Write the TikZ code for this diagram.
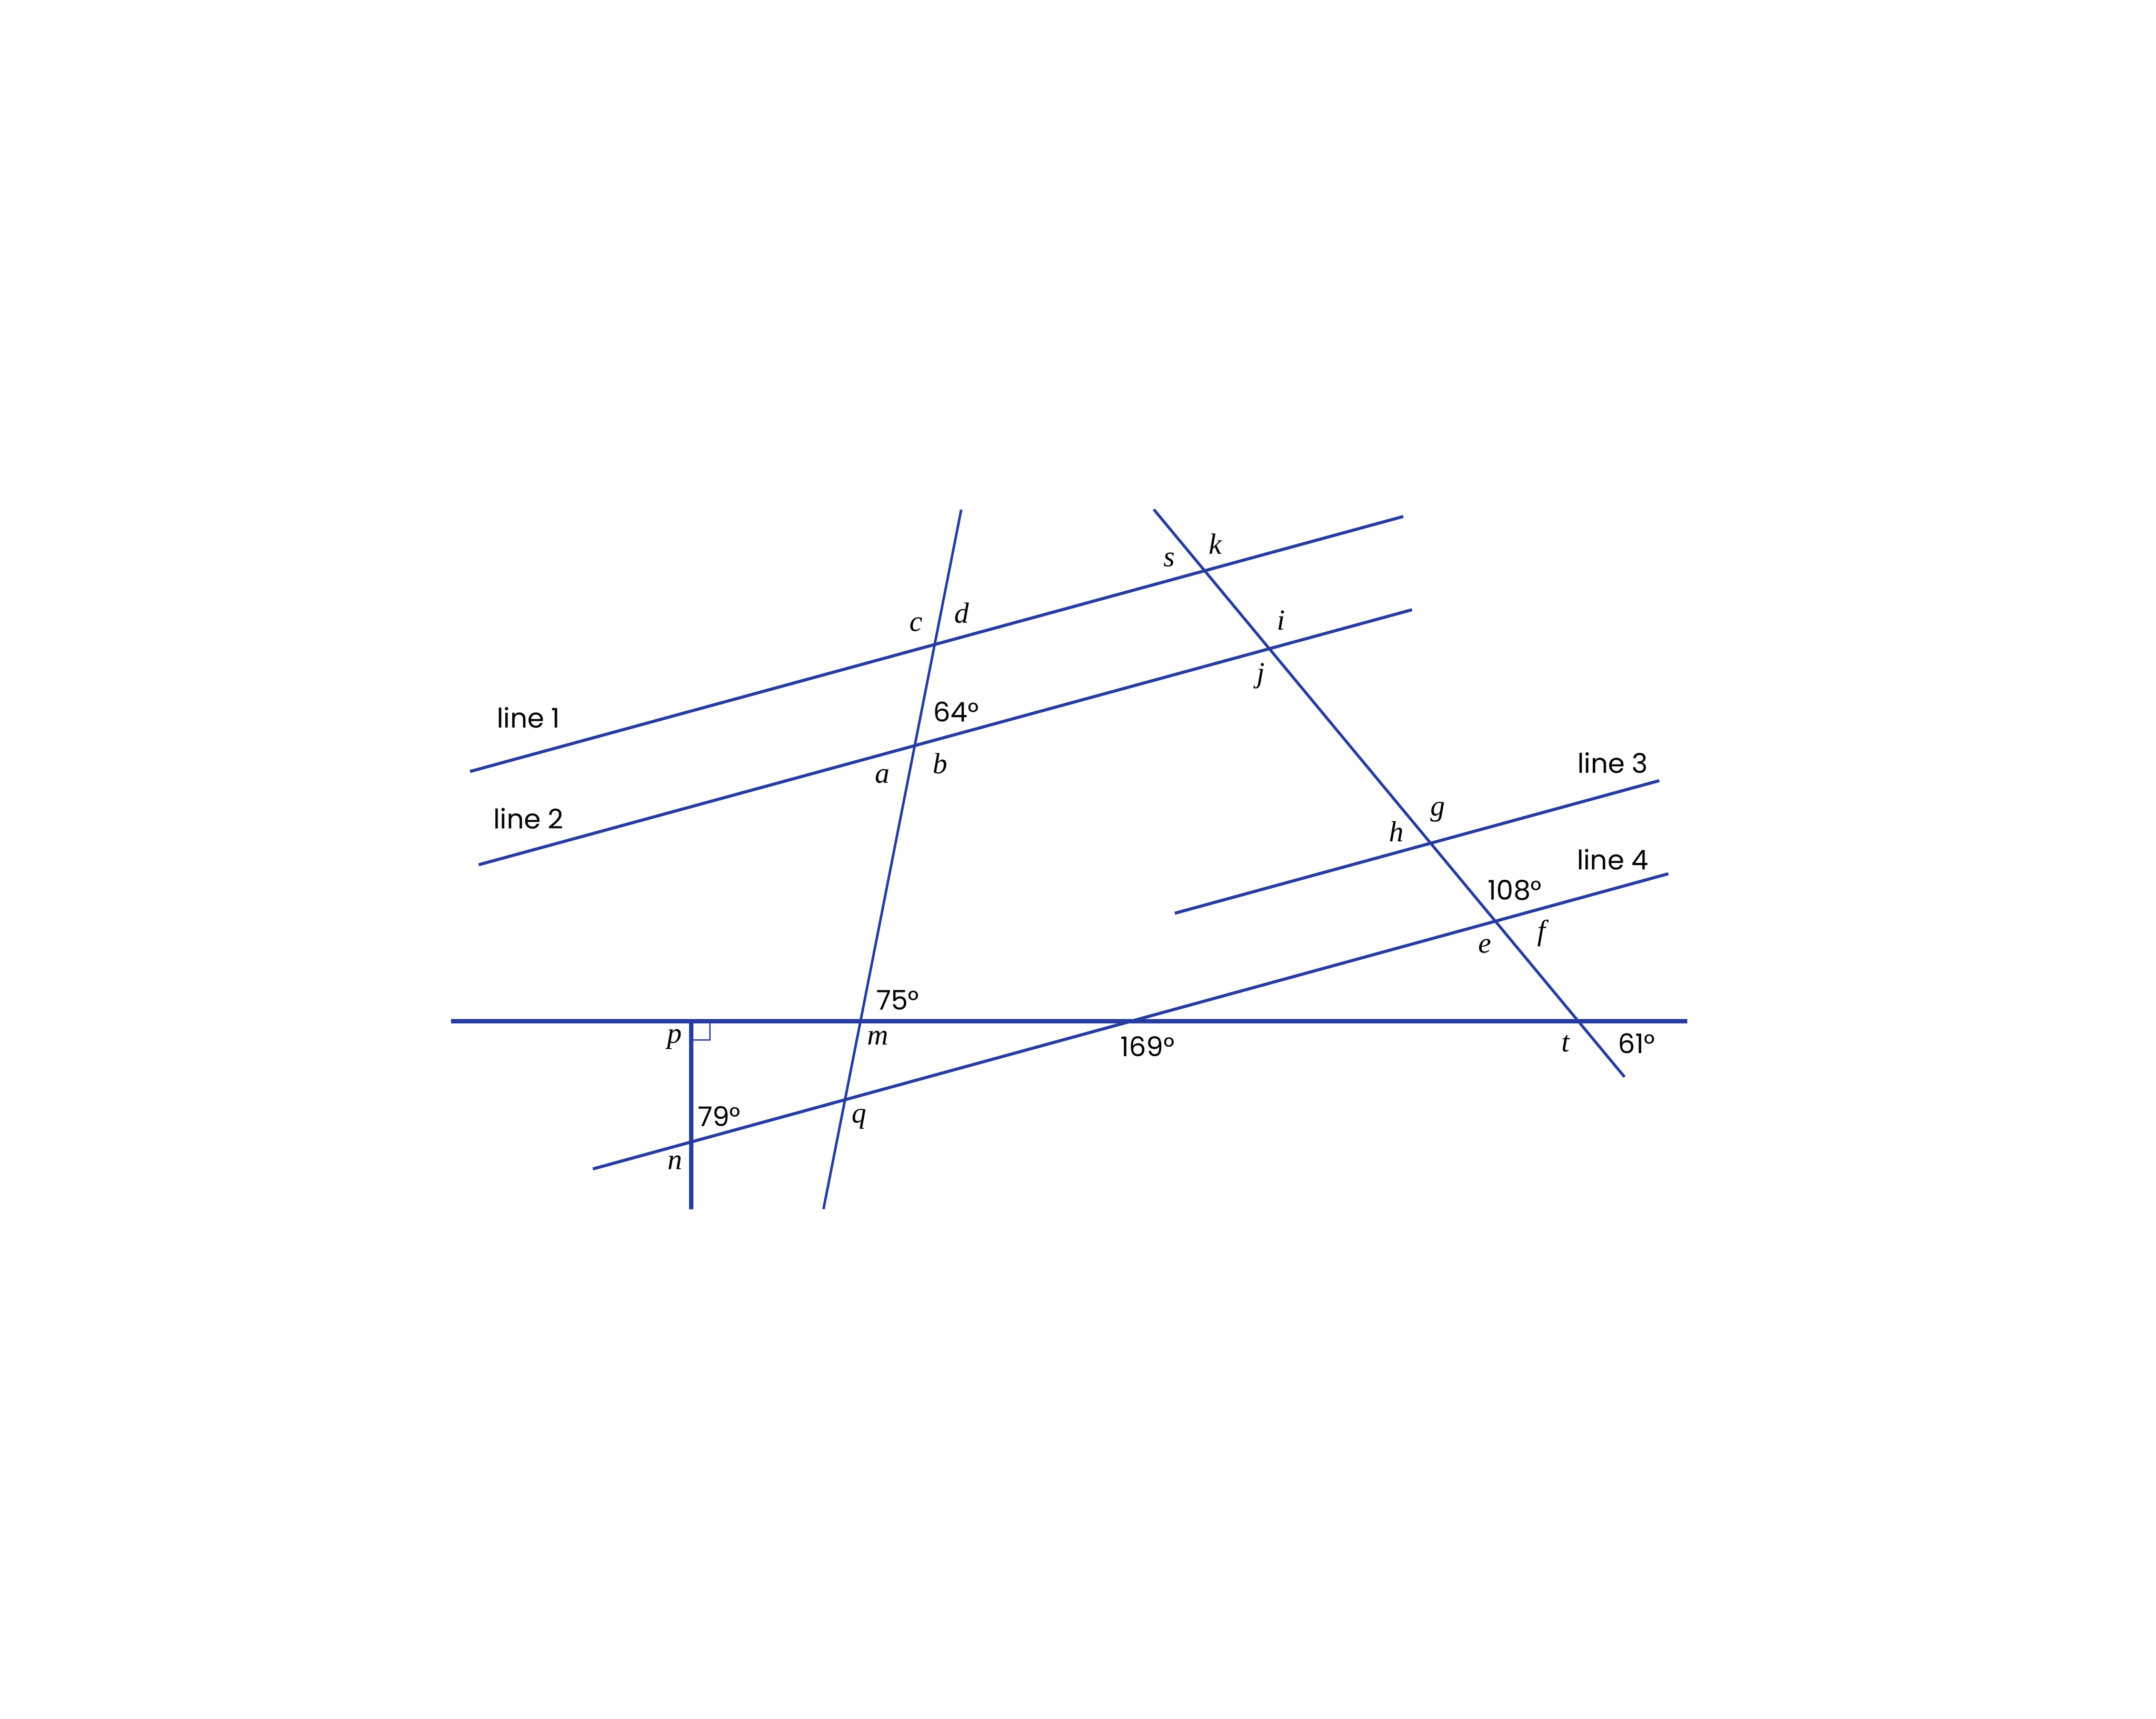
\documentclass[tikz,border=0pt]{standalone}
\usepackage{fontspec}
\setmainfont{Poppins}
\newfontfamily\itf{Liberation Serif}
\definecolor{lineblue}{RGB}{38,60,160}
\begin{document}
\begin{tikzpicture}[x=1pt,y=-1pt,
  geo/.style={draw=lineblue, line cap=butt},
  lbl/.style={inner sep=0pt, text=black, font=\fontsize{19.5}{23}\selectfont},
  var/.style={inner sep=0pt, text=black, font=\fontsize{21}{25}\selectfont\itf\itshape}]
\fill[white] (0,0) rectangle (1556,1240.25);
\useasboundingbox (0,0) rectangle (1556,1240.25);
% end points
\coordinate (L1a) at (339.2,556.7);  \coordinate (L1b) at (1012.7,372.7);
\coordinate (L2a) at (345.5,624);    \coordinate (L2b) at (1019,440);
\coordinate (L3a) at (847.9,659);    \coordinate (L3b) at (1197.5,563.3);
\coordinate (L4a) at (427.9,843.5);  \coordinate (L4b) at (1204,630.5);
\coordinate (T1a) at (693.7,367.8);  \coordinate (T1b) at (594.3,872.5);
\coordinate (T2a) at (832.7,367.6);  \coordinate (T2b) at (1172.4,777.1);
\coordinate (Ha) at (325.4,737);     \coordinate (Hb) at (1217.8,737);
\coordinate (Va) at (498.8,737);     \coordinate (Vb) at (498.8,872.5);
\coordinate (R1) at (498.8,750.5); \coordinate (R2) at (512.5,750.5); \coordinate (R3) at (512.5,737);
% lines
\draw[geo, line width=2.2pt] (L1a) -- (L1b);
\draw[geo, line width=2.2pt] (L2a) -- (L2b);
\draw[geo, line width=2.2pt] (L3a) -- (L3b);
\draw[geo, line width=2.2pt] (L4a) -- (L4b);
\draw[geo, line width=1.8pt] (T1a) -- (T1b);
\draw[geo, line width=2.0pt] (T2a) -- (T2b);
\draw[geo, line width=3.0pt] (Ha) -- (Hb);
\draw[geo, line width=3.1pt] (Va) -- (Vb);
\draw[geo, line width=1.0pt] (R1) -- (R2) -- (R3);
% line names
\node[lbl] (n1) at (381.4,517.9) {line 1};
\node[lbl] (n2) at (381.4,590.5) {line 2};
\node[lbl] (n3) at (1163.9,550.5) {line 3};
\node[lbl] (n4) at (1163.9,620.3) {line 4};
% angles
\node[lbl] (d64) at (690,513.5) {64°};
\node[lbl] (d108) at (1093.3,642.3) {108°};
\node[lbl] (d75) at (647.8,721.7) {75°};
\node[lbl] (d169) at (828.2,755) {169°};
\node[lbl] (d61) at (1181,752.9) {61°};
\node[lbl] (d79) at (519,805.5) {79°};
% letters
\node[var] (vc) at (661.2,450.5) {c};
\node[var] (vd) at (694.2,442.4) {d};
\node[var] (va) at (636.8,560) {a};
\node[var] (vb) at (678.5,551) {b};
\node[var] (vs) at (843.7,403.9) {s};
\node[var] (vk) at (877,392.4) {k};
\node[var] (vi) at (924.5,447.5) {i};
\node[var] (vj) at (910,487.8) {j};
\node[var] (vg) at (1037.5,585.8) {g};
\node[var] (vh) at (1007.9,599.9) {h};
\node[var] (ve) at (1071.5,682.6) {e};
\node[var] (vf) at (1112.4,673.5) {f};
\node[var] (vm) at (633.4,749) {m};
\node[var] (vp) at (486.7,749.8) {p};
\node[var] (vt) at (1130,752.9) {t};
\node[var] (vn) at (487,839) {n};
\node[var] (vq) at (620,807.5) {q};
\end{tikzpicture}
\end{document}
